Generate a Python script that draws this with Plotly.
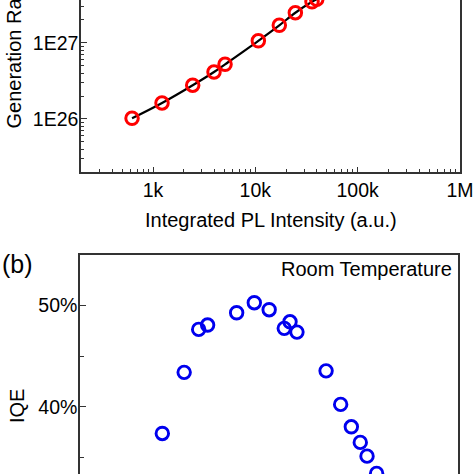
import plotly.graph_objects as go

# ---- Panel (a): generation rate vs integrated PL intensity ----
pl_intensity = [624, 1225, 2443, 3946, 5059, 10700, 17150, 24600, 35800, 39800]
gen_rate = [1.02e26, 1.62e26, 2.77e26, 4.13e26, 5.21e26, 1.06e27, 1.69e27, 2.47e27, 3.44e27, 3.7e27]
x_tick_vals = [1e3, 1e4, 1e5, 1e6]
x_tick_text = ["1k", "10k", "100k", "1M"]
y_tick_vals = [1e26, 1e27]
y_tick_text = ["1E26", "1E27"]

# ---- Panel (b): IQE (room temperature) ----
iqe_gen_rate = [7.45e25, 1.27e26, 1.81e26, 2.25e26, 4.57e26, 7.03e26, 1.01e27, 1.46e27,
                1.68e27, 1.99e27, 4.05e27, 5.78e27, 7.50e27, 9.33e27, 1.10e28, 1.39e28]
iqe = [37.36, 43.39, 47.63, 48.06, 49.27, 50.26, 49.57, 47.73,
       48.38, 47.36, 43.54, 40.23, 38.02, 36.48, 35.12, 33.42]
iqe_tick_vals = [40, 50]
iqe_tick_text = ["40%", "50%"]
iqe_minor_vals = [35, 45]

W = H = 474
FONT = "Liberation Sans, Arial, sans-serif"
AX = "#333333"

def px_x(p):
    return p / W

def px_y(p):
    return 1 - p / H

x_minor = [float(m) * 10.0 ** e for e in range(2, 6) for m in range(2, 10)]
y_minor = [float(m) * 10.0 ** e for e in range(25, 28) for m in range(2, 10)]

fig = go.Figure()
fig.add_trace(go.Scatter(x=pl_intensity, y=gen_rate, mode="lines",
                         line=dict(color="black", width=2.2, shape="spline"),
                         xaxis="x", yaxis="y", hoverinfo="skip"))
fig.add_trace(go.Scatter(x=pl_intensity, y=gen_rate, mode="markers",
                         marker=dict(symbol="circle-open", size=12.5, color="#ff0000",
                                     line=dict(width=3, color="#ff0000")),
                         xaxis="x", yaxis="y"))
fig.add_trace(go.Scatter(x=iqe_gen_rate, y=iqe, mode="markers",
                         marker=dict(symbol="circle-open", size=12.5, color="#0000ee",
                                     line=dict(width=2.9, color="#0000ee")),
                         xaxis="x2", yaxis="y2"))

tickfont = dict(family=FONT, size=19.5, color="black")

fig.update_layout(
    template="none",
    width=W, height=H,
    margin=dict(l=0, r=0, t=0, b=0),
    paper_bgcolor="white", plot_bgcolor="white",
    showlegend=False,
    xaxis=dict(type="log", domain=[px_x(81), px_x(460)], range=[2.2964, 6.0],
               anchor="y", showline=True, linecolor=AX, linewidth=1.5, mirror=False,
               showgrid=False, zeroline=False, automargin=False,
               tickmode="array", tickvals=x_tick_vals, ticktext=x_tick_text,
               ticks="inside", ticklen=6, tickwidth=1.3, tickcolor=AX,
               minor=dict(tickmode="array", tickvals=x_minor, ticks="inside",
                          ticklen=3.5, tickwidth=1.2, tickcolor=AX, showgrid=False),
               tickfont=tickfont),
    yaxis=dict(type="log", domain=[px_y(172.3), 1.0], range=[25.301, 27.56],
               anchor="x", showline=True, linecolor=AX, linewidth=1.5, mirror=True,
               showgrid=False, zeroline=False, automargin=False,
               tickmode="array", tickvals=y_tick_vals, ticktext=y_tick_text,
               ticks="inside", ticklen=6, tickwidth=1.3, tickcolor=AX,
               ticklabelstandoff=-3,
               minor=dict(tickmode="array", tickvals=y_minor, ticks="inside",
                          ticklen=3.5, tickwidth=1.2, tickcolor=AX, showgrid=False),
               tickfont=tickfont),
    xaxis2=dict(type="log", domain=[px_x(80), px_x(457.5)], range=[25, 29],
                anchor="y2", side="top", showline=True, linecolor=AX, linewidth=1.5,
                mirror=False, showgrid=False, zeroline=False, automargin=False,
                ticks="", showticklabels=False),
    yaxis2=dict(domain=[0.0, px_y(255)], range=[33.36, 54.97],
                anchor="x2", showline=True, linecolor=AX, linewidth=1.5, mirror=True,
                showgrid=False, zeroline=False, automargin=False,
                tickmode="array", tickvals=iqe_tick_vals, ticktext=iqe_tick_text,
                ticks="inside", ticklen=6, tickwidth=1.3, tickcolor=AX,
                ticklabelstandoff=-3,
                minor=dict(tickmode="array", tickvals=iqe_minor_vals, ticks="inside",
                           ticklen=4, tickwidth=1.2, tickcolor=AX, showgrid=False),
                tickfont=tickfont),
)

ann_font = dict(family=FONT, size=20, color="black")
fig.add_annotation(text="Integrated PL Intensity (a.u.)", xref="paper", yref="paper",
                   x=px_x(271), y=px_y(220), xanchor="center", yanchor="middle",
                   showarrow=False, font=ann_font)
fig.add_annotation(text="Generation Rate (cm<sup>-3</sup>s<sup>-1</sup>)", xref="paper", yref="paper",
                   x=px_x(12), y=px_y(131), xanchor="center", yanchor="bottom",
                   textangle=-90, showarrow=False, font=ann_font)
fig.add_annotation(text="IQE", xref="paper", yref="paper",
                   x=px_x(17), y=px_y(406), xanchor="center", yanchor="middle",
                   textangle=-90, showarrow=False, font=ann_font)
fig.add_annotation(text="Room Temperature", xref="paper", yref="paper",
                   x=px_x(454), y=px_y(269), xanchor="right", yanchor="middle",
                   showarrow=False, font=ann_font)
fig.add_annotation(text="(b)", xref="paper", yref="paper",
                   x=px_x(0), y=px_y(264), xanchor="left", yanchor="middle",
                   showarrow=False, font=dict(family=FONT, size=25, color="black"))

fig.write_html("out.html")
